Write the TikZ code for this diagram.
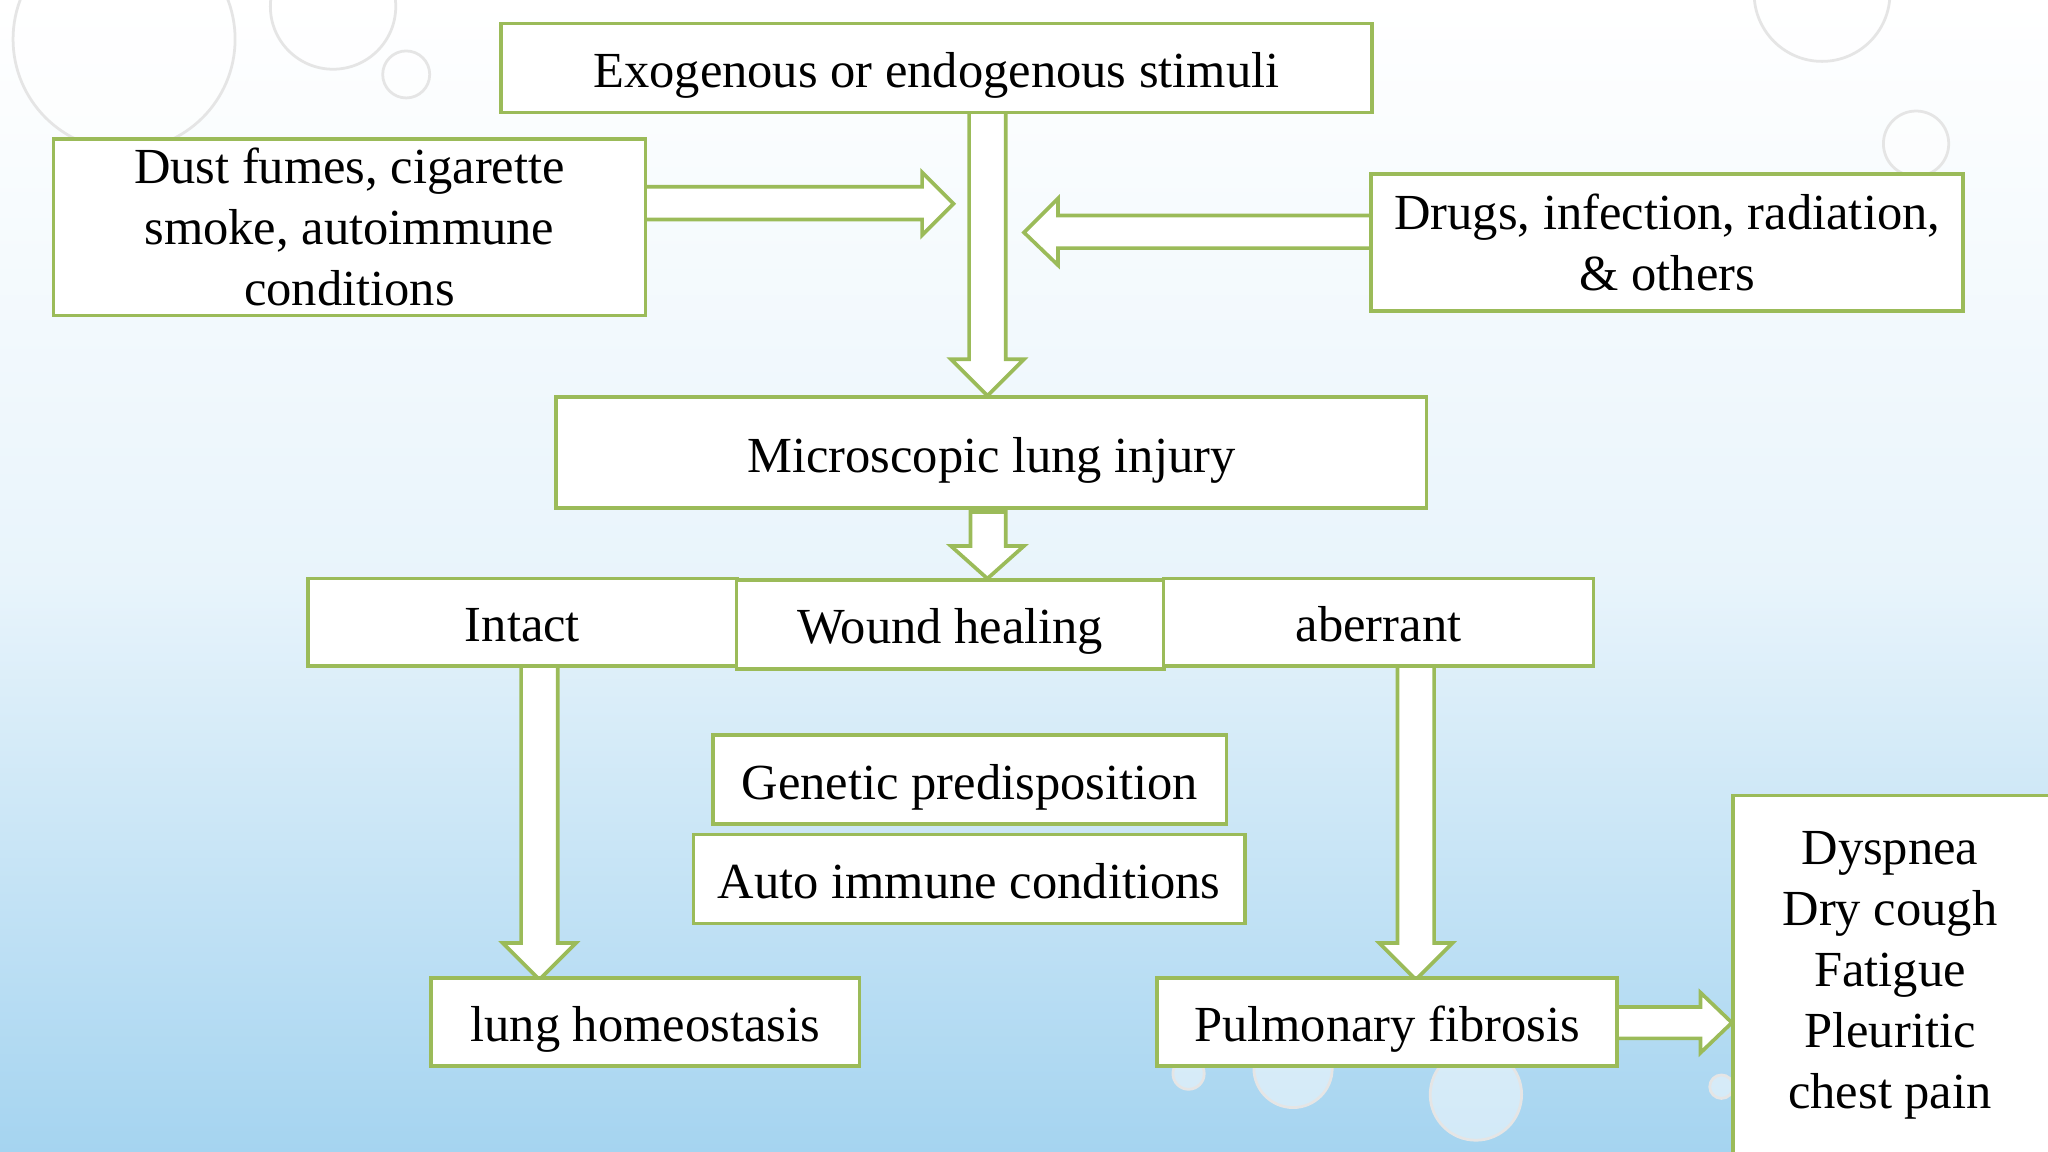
\documentclass[tikz,border=0pt]{standalone}
\usepackage{fontspec}
\setmainfont{Liberation Serif}
\definecolor{boxgreen}{RGB}{155,187,89}
\definecolor{bgblue}{RGB}{165,212,240}
\begin{document}
\begin{tikzpicture}[x=0.01cm,y=-0.01cm,
  box/.style={draw=boxgreen,fill=white,line width=0.8pt,inner sep=2pt,align=center,font=\fontsize{11}{13.3}\selectfont},
  one/.style={text height=0.9em,text depth=0.05em},
  barrow/.style={draw=boxgreen,fill=white,line width=0.8pt,line join=miter},
  drop/.style={fill=white,fill opacity=0.5,draw=gray!20,line width=0.6pt}]
\useasboundingbox (0,0) rectangle (1568,882);
\begin{scope}
\clip (0,0) rectangle (1568,882);
\shade[top color=white,bottom color=bgblue,middle color=white!75!bgblue] (0,0) rectangle (1568,882);
\foreach \x/\y/\r in {95/30/85,255/5/48,311/57/18,1395/-5/52,1467/110/25,910/822/12,990/818/30,1130/838/35,1318/832/9}
  \draw[drop] (\x,\y) circle (\r);
% arrows
\draw[barrow] (742,86) -- (742,275) -- (728,275) -- (756,303) -- (784,275) -- (770,275) -- (770,86);
\draw[barrow] (494,143) -- (706,143) -- (706,132) -- (730,156) -- (706,180) -- (706,168) -- (494,168);
\draw[barrow] (1050,165) -- (810,165) -- (810,152) -- (784,178) -- (810,203) -- (810,190) -- (1050,190);
\draw[barrow] (743,392) -- (743,418) -- (728,418) -- (756,443) -- (784,418) -- (770,418) -- (770,392) -- cycle;
\draw[barrow] (399,510) -- (399,722) -- (385,722) -- (413,750) -- (441,722) -- (427,722) -- (427,510);
\draw[barrow] (1070,510) -- (1070,722) -- (1056,722) -- (1084,750) -- (1112,722) -- (1098,722) -- (1098,510);
\draw[barrow] (1238,771) -- (1302,771) -- (1302,760) -- (1326,783) -- (1302,806) -- (1302,795) -- (1238,795);
% boxes
\node[box,one,minimum width=6.66cm,minimum height=0.68cm] (exo) at (717,52) {Exogenous or endogenous stimuli};
\node[box,minimum width=4.53cm,minimum height=1.28cm] (dust) at (267.5,174) {Dust fumes, cigarette\\smoke, autoimmune\\conditions};
\node[box,minimum width=4.53cm,minimum height=1.05cm] (drugs) at (1276.5,185.5) {Drugs, infection, radiation,\\\& others};
\node[box,one,minimum width=6.66cm,minimum height=0.85cm] (micro) at (759,346.5) {Microscopic lung injury};
\node[box,one,minimum width=3.28cm,minimum height=0.67cm] (intact) at (400,476.5) {Intact};
\node[box,one,minimum width=3.27cm,minimum height=0.68cm] (wound) at (727.5,478) {Wound healing};
\node[box,one,minimum width=3.29cm,minimum height=0.67cm] (aberrant) at (1055.5,476.5) {aberrant};
\node[box,one,minimum width=3.93cm,minimum height=0.68cm] (genetic) at (742.5,597) {Genetic predisposition};
\node[box,one,minimum width=4.22cm,minimum height=0.68cm] (auto) at (742,673) {Auto immune conditions};
\node[box,one,minimum width=3.28cm,minimum height=0.67cm] (homeo) at (494,782.5) {lung homeostasis};
\node[box,one,minimum width=3.52cm,minimum height=0.67cm] (pulm) at (1062,782.5) {Pulmonary fibrosis};
\draw[draw=boxgreen,fill=white,line width=0.8pt] (1327,609) rectangle (1590,900);
\node[align=center,font=\fontsize{11}{13.3}\selectfont,anchor=north] (sym) at (1447,624) {Dyspnea\\Dry cough\\Fatigue\\Pleuritic\\chest pain};
\end{scope}
\end{tikzpicture}
\end{document}
